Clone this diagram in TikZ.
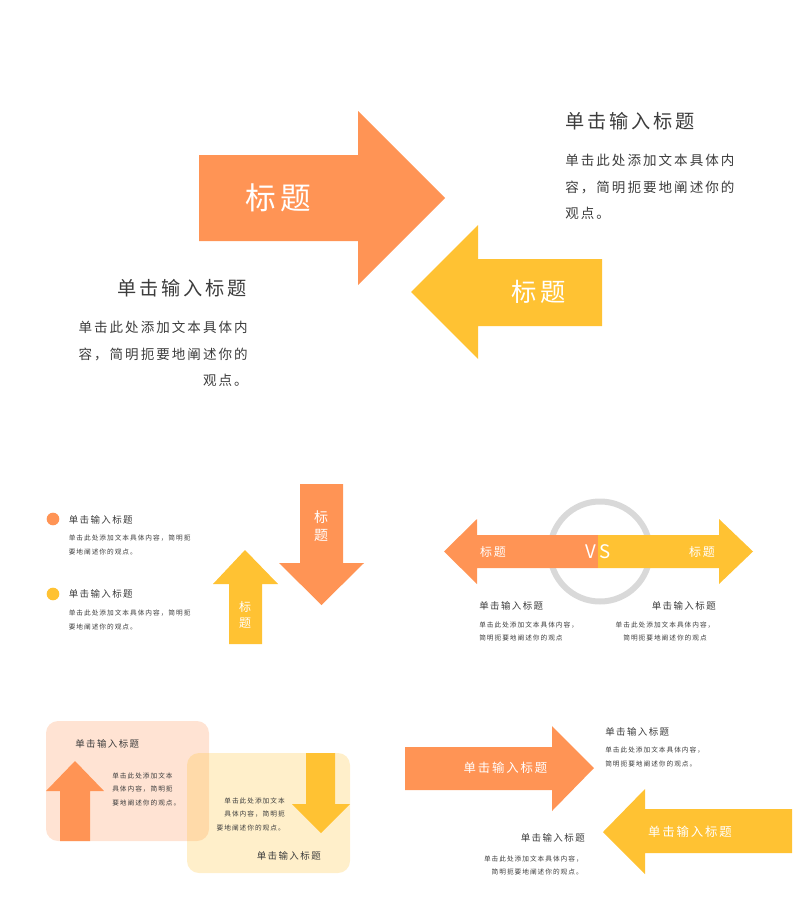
\documentclass[tikz,border=0pt]{standalone}
\usepackage{fontspec}
\setmainfont{Noto Sans CJK SC}[LetterSpace=15]
\usepackage{tikz}
\definecolor{arroworange}{HTML}{FF9455}
\definecolor{arrowyellow}{HTML}{FFC233}
\definecolor{ringgray}{HTML}{D9D9D9}
\definecolor{inkgray}{HTML}{3C3C3C}
\tikzset{
  orangearrow/.style = {fill = arroworange},
  yellowarrow/.style = {fill = arrowyellow},
  inarrow/.style = {text = white, inner sep = 0pt, align = center},
  bigtitle/.style = {text = inkgray, inner sep = 0pt, font = \fontsize{14.4pt}{18pt}\selectfont},
  bigbody/.style = {text = inkgray, inner sep = 0pt, font = \fontsize{10.15pt}{19.9pt}\selectfont},
  smalltitle/.style = {text = inkgray, inner sep = 0pt, font = \fontsize{7.1pt}{9pt}\selectfont},
  smallbody/.style = {text = inkgray, inner sep = 0pt, font = \fontsize{5pt}{10.1pt}\selectfont},
}

\begin{document}
\begin{tikzpicture}[x = .75pt, y = -.75pt]

\useasboundingbox (0,0) rectangle (800,906);

% top pair
\fill[orangearrow] (199,155) -- (358,155) -- (358,111) -- (445,198) -- (358,285) -- (358,241) -- (199,241) -- cycle;
\fill[yellowarrow] (602,259) -- (478,259) -- (478,225) -- (411,292) -- (478,359) -- (478,326) -- (602,326) -- cycle;

\node[inarrow, font = \fontsize{23pt}{28pt}\selectfont] (bigorange) at (278,198) {标题};
\node[inarrow, font = \fontsize{19pt}{24pt}\selectfont] (bigyellow) at (539,292) {标题};

\node[bigtitle, anchor = west] (titleright) at (565,121) {单击输入标题};
\node[bigbody, anchor = west, align = left] (bodyright) at (565,187) {单击此处添加文本具体内\\容，简明扼要地阐述你的\\观点。};
\node[bigtitle, anchor = east] (titleleft) at (247,288) {单击输入标题};
\node[bigbody, anchor = east, align = right] (bodyleft) at (248,354) {单击此处添加文本具体内\\容，简明扼要地阐述你的\\观点。};

% up and down
\fill[orangearrow] (300,484) -- (343,484) -- (343,563) -- (364,563) -- (321.5,605) -- (279,563) -- (300,563) -- cycle;
\fill[yellowarrow] (229,644) -- (262,644) -- (262,584) -- (278,584) -- (245,550) -- (213,584) -- (229,584) -- cycle;

\node[inarrow, font = \fontsize{10.5pt}{13.5pt}\selectfont] (downlabel) at (321,526) {标\\题};
\node[inarrow, font = \fontsize{9pt}{12pt}\selectfont] (uplabel) at (245,615) {标\\题};

\node[circle, fill = arroworange, minimum size = 9.5pt, inner sep = 0pt] (dotorange) at (53,519) {};
\node[circle, fill = arrowyellow, minimum size = 9.5pt, inner sep = 0pt] (dotyellow) at (53,594) {};

\node[smalltitle, anchor = west] (titledown) at (68.5,520) {单击输入标题};
\node[smallbody, anchor = west, align = left] (bodydown) at (68.5,545) {单击此处添加文本具体内容，简明扼\\要地阐述你的观点。};
\node[smalltitle, anchor = west] (titleup) at (68.5,594) {单击输入标题};
\node[smallbody, anchor = west, align = left] (bodyup) at (68.5,620) {单击此处添加文本具体内容，简明扼\\要地阐述你的观点。};

% versus
\draw[ringgray, line width = 4.5pt] (600,551.5) circle [radius = 50];
\fill[orangearrow] (598,535) -- (477,535) -- (477,519) -- (444,551.5) -- (477,584) -- (477,568) -- (598,568) -- cycle;
\fill[yellowarrow] (598,535) -- (719,535) -- (719,519) -- (753,551.5) -- (719,584) -- (719,568) -- (598,568) -- cycle;

\node[inarrow, font = \fontsize{14pt}{18pt}\selectfont] (vslabel) at (598,552) {VS};
\node[inarrow, font = \fontsize{9pt}{12pt}\selectfont] (vsleft) at (493,552) {标题};
\node[inarrow, font = \fontsize{9pt}{12pt}\selectfont] (vsright) at (702,552) {标题};

\node[smalltitle, anchor = west] (titlevsleft) at (479,606) {单击输入标题};
\node[smallbody, anchor = west, align = left] (bodyvsleft) at (479,631.5) {单击此处添加文本具体内容，\\简明扼要地阐述你的观点};
\node[smalltitle, anchor = east] (titlevsright) at (716,606) {单击输入标题};
\node[smallbody, align = center] (bodyvsright) at (665,631.5) {单击此处添加文本具体内容，\\简明扼要地阐述你的观点};

% cards
\fill[arroworange, opacity = .26, rounded corners = 9pt] (46,721) rectangle (209,841);
\fill[arrowyellow, opacity = .26, rounded corners = 9pt] (187,753) rectangle (350,873);
\fill[orangearrow] (60,841) -- (90,841) -- (90,791) -- (104,791) -- (75,761) -- (46,791) -- (60,791) -- cycle;
\fill[yellowarrow] (306,753) -- (335,753) -- (335,804) -- (350,804) -- (321,833) -- (292,804) -- (306,804) -- cycle;

\node[smalltitle, anchor = west] (titlecardleft) at (75,744) {单击输入标题};
\node[smallbody, anchor = west, align = left] (bodycardleft) at (112,789) {单击此处添加文本\\具体内容，简明扼\\要地阐述你的观点。};
\node[smalltitle, anchor = east] (titlecardright) at (321,856) {单击输入标题};
\node[smallbody, anchor = east, align = right] (bodycardright) at (285,814) {单击此处添加文本\\具体内容，简明扼\\要地阐述你的观点。};

% last pair
\fill[orangearrow] (405,747) -- (552,747) -- (552,726) -- (594,768) -- (552,811) -- (552,790) -- (405,790) -- cycle;
\fill[yellowarrow] (792,809) -- (645,809) -- (645,789) -- (603,832) -- (645,874) -- (645,853) -- (792,853) -- cycle;

\node[inarrow, font = \fontsize{9.3pt}{12pt}\selectfont] (lastorange) at (505.5,768) {单击输入标题};
\node[inarrow, font = \fontsize{9.3pt}{12pt}\selectfont] (lastyellow) at (690,832) {单击输入标题};

\node[smalltitle, anchor = west] (titlelastright) at (605,732) {单击输入标题};
\node[smallbody, anchor = west, align = left] (bodylastright) at (605,757) {单击此处添加文本具体内容，\\简明扼要地阐述你的观点。};
\node[smalltitle, anchor = east] (titlelastleft) at (585,838) {单击输入标题};
\node[smallbody, anchor = east, align = right] (bodylastleft) at (583,865.5) {单击此处添加文本具体内容，\\简明扼要地阐述你的观点。};

\end{tikzpicture}
\end{document}
